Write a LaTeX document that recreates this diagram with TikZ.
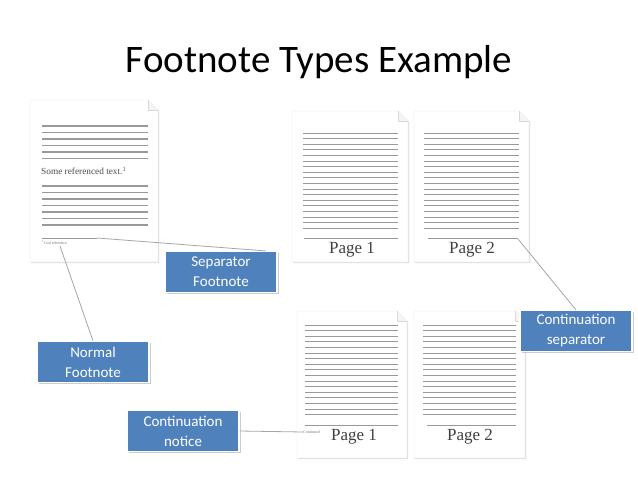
\documentclass[tikz,border=0pt]{standalone}
\usepackage{fontspec}
\setmainfont{Carlito}
\newfontfamily\pagefont{Liberation Serif}
\usetikzlibrary{shadows}
\definecolor{boxblue}{HTML}{4F81BD}
\definecolor{rule}{HTML}{999999}
\tikzset{
  callout/.style={draw=white,line width=1.2pt,fill=boxblue,text=white,align=center,font=\fontsize{15}{20}\selectfont,minimum width=112pt,minimum height=41pt,inner sep=1pt,drop shadow={opacity=0.4,shadow xshift=1.5pt,shadow yshift=-1.5pt}},
  paper/.style={fill=white,draw=black!12,drop shadow={opacity=0.25,shadow xshift=1pt,shadow yshift=-1pt}},
  textline/.style={rule,line width=1.2pt},
  link/.style={draw=black!35,line width=0.8pt},
  pagelbl/.style={font=\pagefont\fontsize{17}{18}\selectfont,text=black!75,inner sep=0}
}
\newcommand{\sheet}[4]{% x1 y1 x2 y2
  \path[paper] (#1,#2) -- ({#3-10},#2) -- (#3,{#2+10}) -- (#3,#4) -- (#1,#4) -- cycle;
  \draw[black!15,fill=black!4] ({#3-10},#2) -- ({#3-10},{#2+10}) -- (#3,{#2+10});
}
\begin{document}
\begin{tikzpicture}[x=1pt,y=-1pt]
\useasboundingbox (0,0) rectangle (638,479);
\fill[white] (0,0) rectangle (638,479);
\node (title) at (319,62) {\fontsize{39}{44}\selectfont Footnote Types Example};
% big page
\sheet{30}{100}{158}{262}
\foreach \y in {126,132.5,...,160} \draw[textline] (42,\y) -- (148,\y);
\node[anchor=west,inner sep=0,font=\pagefont\fontsize{9.3}{10}\selectfont,text=black!70] (ref) at (41,171) {Some referenced text.\textsuperscript{1}};
\foreach \y in {186,192.5,...,230} \draw[textline] (42,\y) -- (148,\y);
\coordinate (sep) at (97,238);
\draw[rule,line width=0.6pt] (42,238) -- (sep);
\node[anchor=west,inner sep=0,font=\pagefont\fontsize{4}{4}\selectfont,text=black!55] (godref) at (42,243) {\textsuperscript{1}God reference};
\coordinate (nf) at (60,246);
% top pages
\sheet{292}{111}{408}{262}
\sheet{414}{111}{529}{262}
\foreach \y in {133,138.6,...,230} {\draw[rule,line width=0.9pt] (303,\y) -- (398,\y); \draw[rule,line width=0.9pt] (424,\y) -- (519,\y);}
\draw[rule,line width=0.8pt] (304,238) -- (398,238);
\draw[rule,line width=0.8pt] (428,238) -- (518,238);
\coordinate (csep) at (518,239);
\node[pagelbl] (p1a) at (352,250) {Page 1};
\node[pagelbl] (p2a) at (472,250) {Page 2};
% bottom pages
\sheet{297}{311}{407}{458}
\sheet{414}{311}{525}{458}
\foreach \y in {325,330.6,...,418} {\draw[rule,line width=0.9pt] (305,\y) -- (398,\y); \draw[rule,line width=0.9pt] (423,\y) -- (516,\y);}
\draw[rule,line width=0.8pt] (305,425) -- (398,425);
\draw[rule,line width=0.8pt] (427,425) -- (516,425);
\node[anchor=west,inner sep=0,font=\pagefont\fontsize{4}{4}\selectfont,text=black!55] (cont) at (303,432) {Continued};
\node[pagelbl] (p1b) at (354,437) {Page 1};
\node[pagelbl] (p2b) at (470,437) {Page 2};
% callouts
\node[callout] (sf) at (221,272) {Separator\\Footnote};
\node[callout] (nfb) at (93,362) {Normal\\Footnote};
\node[callout] (cs) at (576,331) {Continuation\\separator};
\node[callout] (cn) at (183,431) {Continuation\\notice};
\draw[link] (sep) -- ([xshift=-12pt]sf.north east);
\draw[link] (nf) -- (nfb.north);
\draw[link] (csep) -- (cs.north);
\draw[link] (cn.east) -- (cont.west);
\end{tikzpicture}
\end{document}
